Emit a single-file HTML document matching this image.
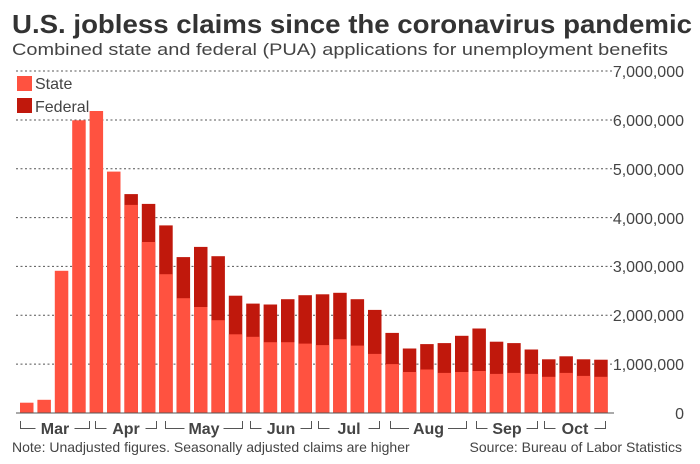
<!DOCTYPE html>
<html><head><meta charset="utf-8"><style>
html,body{margin:0;padding:0;background:#fff;}
svg{display:block;font-family:"Liberation Sans",sans-serif;}
</style></head><body>
<svg width="700" height="464" viewBox="0 0 700 464" xmlns="http://www.w3.org/2000/svg">
<text x="12" y="33" font-size="26" font-weight="bold" fill="#333" textLength="680" lengthAdjust="spacingAndGlyphs">U.S. jobless claims since the coronavirus pandemic</text>
<text x="12" y="55" font-size="17" fill="#444" textLength="656" lengthAdjust="spacingAndGlyphs">Combined state and federal (PUA) applications for unemployment benefits</text>
<g stroke="#555" stroke-width="1" stroke-dasharray="2,2.5">
<line x1="16" x2="612" y1="71" y2="71"/><line x1="16" x2="612" y1="120" y2="120"/>
<line x1="16" x2="612" y1="168.7" y2="168.7"/><line x1="16" x2="612" y1="217.6" y2="217.6"/>
<line x1="16" x2="612" y1="266.4" y2="266.4"/><line x1="16" x2="612" y1="315.3" y2="315.3"/>
<line x1="16" x2="612" y1="364.1" y2="364.1"/>
</g>
<g font-size="16" fill="#444" text-anchor="end">
<text x="684" y="77">7,000,000</text><text x="684" y="126">6,000,000</text>
<text x="684" y="175">5,000,000</text><text x="684" y="224">4,000,000</text>
<text x="684" y="272">3,000,000</text><text x="684" y="321">2,000,000</text>
<text x="684" y="370">1,000,000</text><text x="684" y="419">0</text>
</g>
<g fill="#c0180c">
<rect x="124.4" y="194.1" width="13.5" height="218.9"/>
<rect x="141.8" y="203.9" width="13.5" height="209.1"/>
<rect x="159.2" y="225.4" width="13.5" height="187.6"/>
<rect x="176.6" y="257.1" width="13.5" height="155.9"/>
<rect x="194" y="246.9" width="13.5" height="166.1"/>
<rect x="211.4" y="256.2" width="13.5" height="156.8"/>
<rect x="228.8" y="295.7" width="13.5" height="117.3"/>
<rect x="246.2" y="303.6" width="13.5" height="109.4"/>
<rect x="263.6" y="304.5" width="13.5" height="108.5"/>
<rect x="281" y="299.2" width="13.5" height="113.8"/>
<rect x="298.4" y="295.2" width="13.5" height="117.8"/>
<rect x="315.8" y="294.3" width="13.5" height="118.7"/>
<rect x="333.2" y="292.8" width="13.5" height="120.2"/>
<rect x="350.6" y="299.2" width="13.5" height="113.8"/>
<rect x="368" y="309.9" width="13.5" height="103.1"/>
<rect x="385.4" y="332.9" width="13.5" height="80.1"/>
<rect x="402.8" y="348.5" width="13.5" height="64.5"/>
<rect x="420.2" y="344.1" width="13.5" height="68.9"/>
<rect x="437.6" y="343.1" width="13.5" height="69.9"/>
<rect x="455" y="335.8" width="13.5" height="77.2"/>
<rect x="472.4" y="328.5" width="13.5" height="84.5"/>
<rect x="489.8" y="341.7" width="13.5" height="71.3"/>
<rect x="507.2" y="343.1" width="13.5" height="69.9"/>
<rect x="524.6" y="349.5" width="13.5" height="63.5"/>
<rect x="542" y="359.3" width="13.5" height="53.7"/>
<rect x="559.4" y="356.3" width="13.5" height="56.7"/>
<rect x="576.8" y="359.3" width="13.5" height="53.7"/>
<rect x="594.2" y="359.7" width="13.5" height="53.3"/>
</g>
<g fill="#ff5240">
<rect x="20" y="402.7" width="13.5" height="10.3"/>
<rect x="37.4" y="399.8" width="13.5" height="13.2"/>
<rect x="54.8" y="270.8" width="13.5" height="142.2"/>
<rect x="72.2" y="120.3" width="13.5" height="292.7"/>
<rect x="89.6" y="111" width="13.5" height="302"/>
<rect x="107" y="171.6" width="13.5" height="241.4"/>
<rect x="124.4" y="204.9" width="13.5" height="208.1"/>
<rect x="141.8" y="242" width="13.5" height="171"/>
<rect x="159.2" y="274.2" width="13.5" height="138.8"/>
<rect x="176.6" y="298.2" width="13.5" height="114.8"/>
<rect x="194" y="307" width="13.5" height="106"/>
<rect x="211.4" y="320.2" width="13.5" height="92.8"/>
<rect x="228.8" y="334.3" width="13.5" height="78.7"/>
<rect x="246.2" y="336.8" width="13.5" height="76.2"/>
<rect x="263.6" y="342.2" width="13.5" height="70.8"/>
<rect x="281" y="342.2" width="13.5" height="70.8"/>
<rect x="298.4" y="343.6" width="13.5" height="69.4"/>
<rect x="315.8" y="345.1" width="13.5" height="67.9"/>
<rect x="333.2" y="339.2" width="13.5" height="73.8"/>
<rect x="350.6" y="345.6" width="13.5" height="67.4"/>
<rect x="368" y="353.9" width="13.5" height="59.1"/>
<rect x="385.4" y="364.1" width="13.5" height="48.9"/>
<rect x="402.8" y="372" width="13.5" height="41"/>
<rect x="420.2" y="369.5" width="13.5" height="43.5"/>
<rect x="437.6" y="372.9" width="13.5" height="40.1"/>
<rect x="455" y="372" width="13.5" height="41"/>
<rect x="472.4" y="371" width="13.5" height="42"/>
<rect x="489.8" y="373.9" width="13.5" height="39.1"/>
<rect x="507.2" y="372.9" width="13.5" height="40.1"/>
<rect x="524.6" y="373.9" width="13.5" height="39.1"/>
<rect x="542" y="376.8" width="13.5" height="36.2"/>
<rect x="559.4" y="372.9" width="13.5" height="40.1"/>
<rect x="576.8" y="375.9" width="13.5" height="37.1"/>
<rect x="594.2" y="376.8" width="13.5" height="36.2"/>
</g>
<line x1="16" x2="614" y1="413" y2="413" stroke="#555" stroke-width="1"/>
<rect x="17" y="76" width="15" height="15" fill="#ff5240"/>
<text x="35" y="89" font-size="16" fill="#444">State</text>
<rect x="17" y="98" width="15" height="15" fill="#c0180c"/>
<text x="35" y="112" font-size="16" fill="#444">Federal</text>
<g stroke="#555" stroke-width="1" fill="none">
<path d="M20.5 421V428.5H35.5M74.5 428.5H89.5V421"/>
<path d="M95.5 421V428.5H106.5M145.5 428.5H156.5V421"/>
<path d="M165.5 421V428.5H184.5M223.5 428.5H242.5V421"/>
<path d="M250.5 421V428.5H261.5M300.5 428.5H311.5V421"/>
<path d="M318.5 421V428.5H329.5M368.5 428.5H379.5V421"/>
<path d="M390.5 421V428.5H409M448 428.5H466.5V421"/>
<path d="M476.5 421V428.5H487.5M526.5 428.5H537.5V421"/>
<path d="M544.5 421V428.5H555.5M594.5 428.5H605.5V421"/>
</g>
<g font-size="16" font-weight="bold" fill="#444" text-anchor="middle">
<text x="55" y="434">Mar</text><text x="126" y="434">Apr</text>
<text x="204" y="434">May</text><text x="281" y="434">Jun</text>
<text x="349" y="434">Jul</text><text x="428.5" y="434">Aug</text>
<text x="507" y="434">Sep</text><text x="575" y="434">Oct</text>
</g>
<text x="12" y="452" font-size="14" fill="#444">Note: Unadjusted figures. Seasonally adjusted claims are higher</text>
<text x="682" y="452" font-size="14" fill="#444" text-anchor="end">Source: Bureau of Labor Statistics</text>
</svg>
</body></html>
